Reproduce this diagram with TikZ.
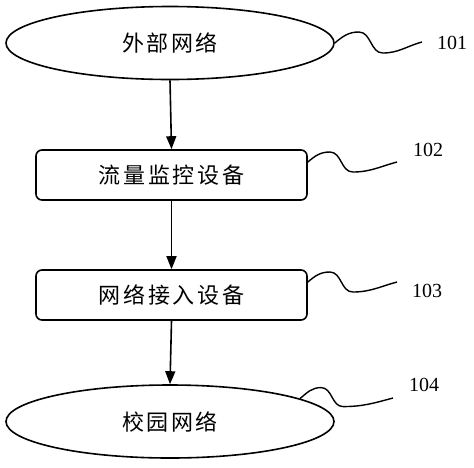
\documentclass[tikz,border=0pt]{standalone}
\usepackage{fontspec}
\setmainfont{Liberation Serif}
\newfontfamily\cjk[LetterSpace=12]{Noto Sans CJK SC}
\usetikzlibrary{arrows.meta,shapes.geometric}
\begin{document}
\begin{tikzpicture}[x=1pt,y=1pt]
\tikzstyle{net} = [ellipse, draw=black, line width=1.6pt, minimum width=328pt, minimum height=73pt, font=\cjk\fontsize{22}{26}\selectfont]
\tikzstyle{device} = [rectangle, rounded corners=6pt, draw=black, line width=1.6pt, minimum width=271pt, minimum height=50pt, font=\cjk\fontsize{22}{26}\selectfont]
\tikzstyle{edge} = [draw=black, line width=1.6pt, -{Triangle[length=13pt,width=10pt]}]
\tikzstyle{lead} = [draw=black, line width=1.4pt]
\tikzstyle{ref} = [font=\fontsize{20}{24}\selectfont]

\useasboundingbox (0,0) rectangle (474,-467);

\node[net] (ext) at (170,-43) {外部网络};
\node[device] (mon) at (171.5,-175) {流量监控设备};
\node[device] (acc) at (171.5,-295) {网络接入设备};
\node[net] (camp) at (170,-421.5) {校园网络};

\node[ref] (r101) at (452,-43) {101};
\node[ref] (r102) at (428,-150) {102};
\node[ref] (r103) at (427,-291) {103};
\node[ref] (r104) at (424,-385) {104};

\coordinate (e101) at (422,-42);
\coordinate (e102) at (397,-162);
\coordinate (e103) at (397,-282);
\coordinate (e104) at (393,-398);

\draw[edge] (ext.south) -- (mon.north);
\draw[edge] (mon.south) -- (acc.north);
\draw[edge] (acc.south) -- (camp.north);

\draw[lead] (ext.east) to[out=40,in=180] ++(24,11) to[out=0,in=180] ++(24,-21) to[out=0,in=195] (e101);
\draw[lead] ([yshift=13pt]mon.east) to[out=40,in=180] ++(22,10) to[out=0,in=180] ++(23,-20) to[out=0,in=195] (e102);
\draw[lead] ([yshift=13pt]acc.east) to[out=40,in=180] ++(22,10) to[out=0,in=180] ++(23,-20) to[out=0,in=195] (e103);
\draw[lead] (camp.10) to[out=40,in=180] ++(21,11) to[out=0,in=180] ++(22,-19) to[out=0,in=195] (e104);
\end{tikzpicture}
\end{document}
